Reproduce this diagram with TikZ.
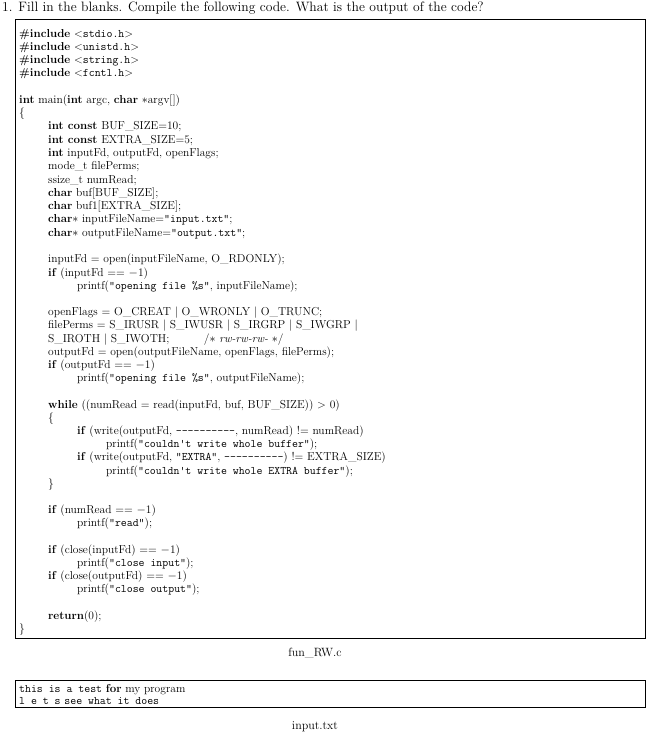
\documentclass[tikz,border=0pt]{standalone}
\newcommand\kw[1]{\textbf{#1}}
\newcommand\st[1]{\texttt{#1}}
\newcommand\blank{\texttt{-{}-{}-{}-{}-{}-{}-{}-{}-{}-}}
\begin{document}
\begin{tikzpicture}[x=1pt,y=-1pt,
  cl/.style={anchor=base west,inner sep=0pt,font=\fontsize{11.5}{13}\selectfont},
  lbl/.style={anchor=base,inner sep=0pt,font=\fontsize{12}{13}\selectfont},
  frame/.style={draw,line width=0.9pt}]
\useasboundingbox (0,0) rectangle (650,733);
\node[anchor=base west,inner sep=0pt,font=\fontsize{13.6}{15}\selectfont] (title) at (2,12) {1. Fill in the blanks. Compile the following code. What is the output of the code?};
\node[frame,minimum width=630pt,minimum height=619pt,anchor=north west,inner sep=0pt] (code) at (15,19) {};
\node[cl] (a1) at (19,38) {\kw{\#include} <\st{stdio.h}>};
\node[cl] (a2) at (19,51) {\kw{\#include} <\st{unistd.h}>};
\node[cl] (a3) at (19,64) {\kw{\#include} <\st{string.h}>};
\node[cl] (a4) at (19,77) {\kw{\#include} <\st{fcntl.h}>};
\node[cl] (a5) at (19,104) {\kw{int} main(\kw{int} argc, \kw{char} $*$argv[])};
\node[cl] (a6) at (19,117) {\{};
\node[cl] (b1) at (48,130) {\kw{int const} BUF\_SIZE=10;};
\node[cl] (b2) at (48,143) {\kw{int const} EXTRA\_SIZE=5;};
\node[cl] (b3) at (48,156) {\kw{int} inputFd, outputFd, openFlags;};
\node[cl] (b4) at (48,169) {mode\_t filePerms;};
\node[cl] (b5) at (48,183) {ssize\_t numRead;};
\node[cl] (b6) at (48,196) {\kw{char} buf[BUF\_SIZE];};
\node[cl] (b7) at (48,209) {\kw{char} buf1[EXTRA\_SIZE];};
\node[cl] (b8) at (48,222) {\kw{char}$*$ inputFileName=\st{"input.txt"};};
\node[cl] (b9) at (48,236) {\kw{char}$*$ outputFileName=\st{"output.txt"};};
\node[cl] (c1) at (48,262) {inputFd = open(inputFileName, O\_RDONLY);};
\node[cl] (c2) at (48,276) {\kw{if} (inputFd == $-$1)};
\node[cl] (c3) at (77,289) {printf(\st{"opening file \%s"}, inputFileName);};
\node[cl] (d1) at (48,315) {openFlags = O\_CREAT | O\_WRONLY | O\_TRUNC;};
\node[cl] (d2) at (48,328) {filePerms = S\_IRUSR | S\_IWUSR | S\_IRGRP | S\_IWGRP |};
\node[cl] (d3) at (48,342) {S\_IROTH | S\_IWOTH;\hspace{3em}/$*$ \textit{rw-rw-rw-} $*$/};
\node[cl] (d4) at (48,355) {outputFd = open(outputFileName, openFlags, filePerms);};
\node[cl] (d5) at (48,368) {\kw{if} (outputFd == $-$1)};
\node[cl] (d6) at (77,381) {printf(\st{"opening file \%s"}, outputFileName);};
\node[cl] (e1) at (48,408) {\kw{while} ((numRead = read(inputFd, buf, BUF\_SIZE)) > 0)};
\node[cl] (e2) at (48,421) {\{};
\node[cl] (e3) at (77,434) {\kw{if} (write(outputFd, \blank, numRead) != numRead)};
\node[cl] (e4) at (106,447) {printf(\st{"couldn't write whole buffer"});};
\node[cl] (e5) at (77,460) {\kw{if} (write(outputFd, \st{"EXTRA"}, \blank) != EXTRA\_SIZE)};
\node[cl] (e6) at (106,474) {printf(\st{"couldn't write whole EXTRA buffer"});};
\node[cl] (e7) at (48,487) {\}};
\node[cl] (f1) at (48,513) {\kw{if} (numRead == $-$1)};
\node[cl] (f2) at (77,526) {printf(\st{"read"});};
\node[cl] (f3) at (48,553) {\kw{if} (close(inputFd) == $-$1)};
\node[cl] (f4) at (77,566) {printf(\st{"close input"});};
\node[cl] (f5) at (48,579) {\kw{if} (close(outputFd) == $-$1)};
\node[cl] (f6) at (77,592) {printf(\st{"close output"});};
\node[cl] (f7) at (48,619) {\kw{return}(0);};
\node[cl] (f8) at (19,632) {\}};
\node[lbl] (cap1) at (315,656) {fun\_RW.c};
\node[frame,minimum width=630pt,minimum height=27pt,anchor=north west,inner sep=0pt] (inp) at (15,680) {};
\node[cl] (g1) at (19,692) {\st{this is a test} \kw{for} my program};
\node[cl] (g2) at (19,704) {\st{l e t s} \st{see what it does}};
\node[lbl] (cap2) at (315,729) {input.txt};
\end{tikzpicture}
\end{document}
